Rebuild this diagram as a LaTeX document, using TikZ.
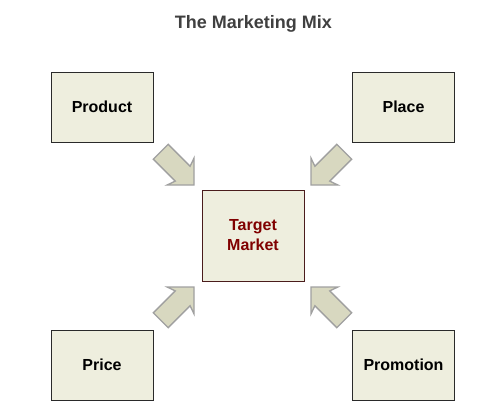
\documentclass[tikz,border=0pt]{standalone}
\usepackage{fontspec}
\setmainfont{Liberation Sans}
\definecolor{boxfill}{HTML}{EEEEDE}
\definecolor{boxline}{HTML}{2A2A2A}
\definecolor{tgtline}{HTML}{4A1C1C}
\definecolor{tgttext}{HTML}{800000}
\definecolor{arrfill}{HTML}{D8D8C0}
\definecolor{arrline}{HTML}{A0A0A0}
\definecolor{titlecol}{HTML}{404040}
\begin{document}
\begin{tikzpicture}[x=1pt,y=-1pt,
  mixbox/.style={draw=boxline, line width=1pt, fill=boxfill,
    minimum width=102pt, minimum height=70pt, inner sep=0pt,
    font=\fontsize{16}{19}\selectfont\bfseries, text=black},
  tgtbox/.style={mixbox, draw=tgtline, minimum height=91pt,
    text=tgttext, align=center, font=\fontsize{16}{20}\selectfont\bfseries},
  blockarrow/.style={draw=arrline, line width=1.3pt, fill=arrfill, line join=miter}
]
\useasboundingbox (0,0) rectangle (504,413);
\fill[white] (0,0) rectangle (504,413);

\node[anchor=base, font=\fontsize{18}{21}\selectfont\bfseries, text=titlecol] (title) at (253.5,28.5) {The Marketing Mix};

\node[mixbox] (product) at (102,107) {Product};
\node[mixbox] (place) at (403.5,107) {Place};
\node[mixbox] (price) at (102,365) {Price};
\node[mixbox] (promotion) at (403.5,365) {Promotion};
\node[tgtbox] (target) at (253,235.5) {Target\\Market};

\foreach \px/\py/\ang in {194/185/-45, 311/185/-135, 194/287/45, 311/287/135}{
  \begin{scope}[shift={(\px,\py)}, rotate=\ang]
    \draw[blockarrow] (0,0) -- (-19,19) -- (-16,10.5) -- (-47,10.5) -- (-47,-10.5) -- (-16,-10.5) -- (-19,-19) -- cycle;
  \end{scope}
}
\end{tikzpicture}
\end{document}
